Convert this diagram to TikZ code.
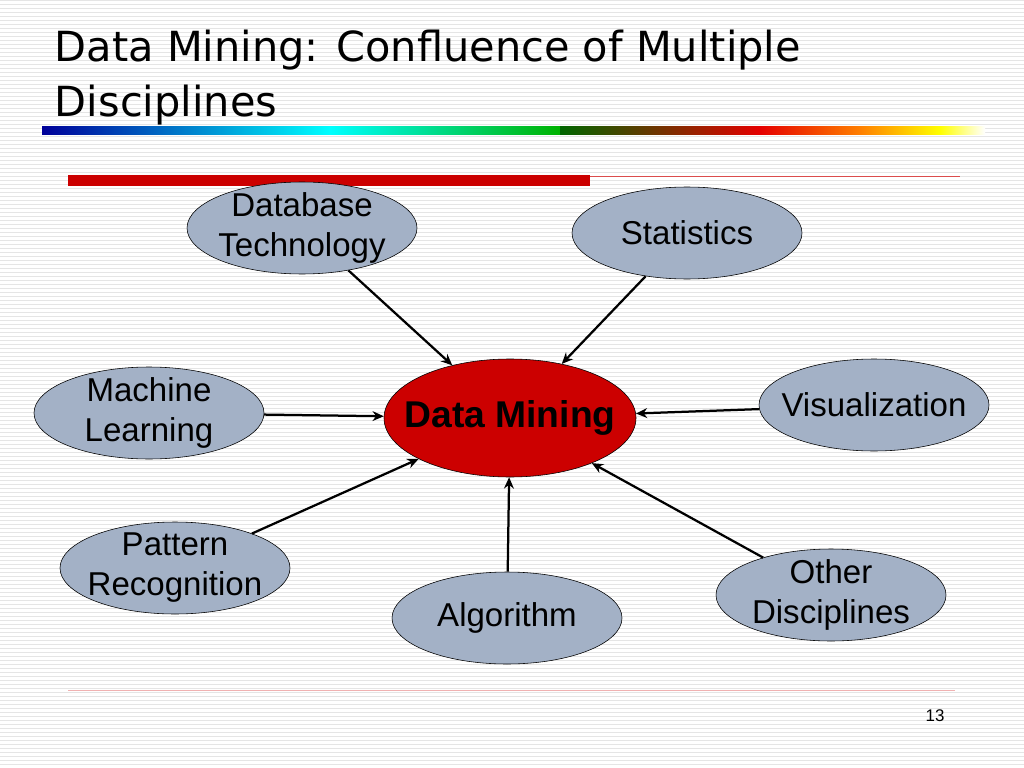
\documentclass[tikz,border=0pt]{standalone}
\usepackage{fontspec}
\setmainfont{Liberation Sans}
\newfontfamily\titlefont{DejaVu Sans}
\usetikzlibrary{shapes.geometric,arrows.meta}
\definecolor{discfill}{HTML}{A3B1C6}
\definecolor{dmred}{HTML}{CC0000}
\tikzset{
  disc/.style={ellipse, draw=black, fill=discfill, minimum width=230*0.025cm,
    minimum height=92*0.025cm, inner xsep=-20pt, inner ysep=-8pt, align=center,
    font=\fontsize{23.5}{28.5}\selectfont},
  feed/.style={-{Stealth[length=8pt,width=7pt]}, line width=1.6pt}
}
\begin{document}
\begin{tikzpicture}[x=0.025cm,y=-0.025cm]
\useasboundingbox (0,0) rectangle (1024,768);
% Background stripes
\fill[white] (0,0) rectangle (1024,768);
\foreach \y in {0,4,...,768}
  \draw[black!10, line width=0.6pt] (0,\y) -- (1024,\y);

% Title
\node[anchor=west, font=\titlefont\fontsize{29.5}{34}\selectfont] (title1) at (50,50) {Data Mining: Confluence of Multiple};
\node[anchor=west, font=\titlefont\fontsize{29.5}{34}\selectfont] (title2) at (50,105) {Disciplines};

% Rainbow bar
\shade[left color=blue!60!black, right color=cyan] (42,127) rectangle (330,135);
\shade[left color=cyan, right color=green!70!black] (330,127) rectangle (560,135);
\shade[left color=green!40!black, right color=red!90!black] (560,127) rectangle (760,135);
\shade[left color=red!90!black, right color=orange] (760,127) rectangle (860,135);
\shade[left color=orange, right color=yellow] (860,127) rectangle (940,135);
\shade[left color=yellow, right color=white] (940,127) rectangle (985,135);

% Red bar and rules
\fill[dmred] (68,175) rectangle (590,186);
\draw[dmred!70, line width=0.6pt] (590,176) -- (960,176);
\draw[dmred!30, line width=0.6pt] (68,690) -- (955,690);
\node[font=\fontsize{12}{14}\selectfont] (page) at (935,716) {13};

% Nodes
\node[ellipse, draw=black, fill=dmred, minimum width=252*0.025cm, minimum height=118*0.025cm,
  inner xsep=-22pt, inner ysep=-10pt, font=\bfseries\fontsize{26.5}{30}\selectfont] (dm) at (510,418) {Data Mining};
\node[disc] (db) at (302,228) {Database\\Technology};
\node[disc] (stat) at (687,233) {Statistics};
\node[disc] (ml) at (149,413) {Machine\\Learning};
\node[disc] (vis) at (874,405) {Visualization};
\node[disc] (pr) at (175,568) {Pattern\\Recognition};
\node[disc] (alg) at (507,618) {Algorithm};
\node[disc] (other) at (831,595) {Other\\Disciplines};

% Arrows
\draw[feed] (db) -- (dm);
\draw[feed] (stat) -- (dm);
\draw[feed] (ml) -- (dm);
\draw[feed] (vis) -- (dm);
\draw[feed] (pr) -- (dm);
\draw[feed] (alg) -- (dm);
\draw[feed] (other) -- (dm);
\end{tikzpicture}
\end{document}
